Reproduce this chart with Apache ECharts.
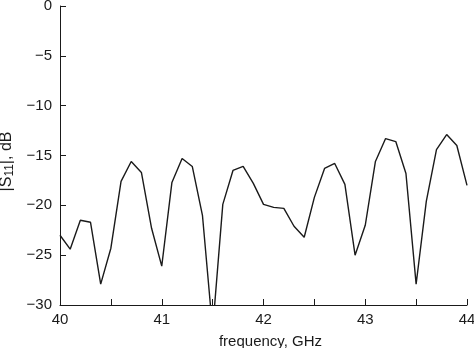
<!DOCTYPE html>
<html>
<head>
<meta charset="utf-8">
<style>html,body{margin:0;padding:0;background:#fff}#c{width:474px;height:348px}</style>
<script src="https://cdn.jsdelivr.net/npm/echarts@6/dist/echarts.min.js"></script>
</head>
<body>
<div id="c"></div>
<script>
var frequencies = [40.0,40.1,40.2,40.3,40.4,40.5,40.6,40.7,40.8,40.9,41.0,41.1,41.2,41.3,41.4,41.5,41.6,41.7,41.8,41.9,42.0,42.1,42.2,42.3,42.4,42.5,42.6,42.7,42.8,42.9,43.0,43.1,43.2,43.3,43.4,43.5,43.6,43.7,43.8,43.9,44.0];
var s11 = [-23.0,-24.4,-21.5,-21.7,-27.9,-24.3,-17.6,-15.6,-16.7,-22.3,-26.1,-17.7,-15.3,-16.1,-21.0,-32.5,-19.9,-16.5,-16.1,-17.8,-19.9,-20.2,-20.3,-22.1,-23.2,-19.2,-16.3,-15.8,-17.9,-25.0,-22.0,-15.6,-13.3,-13.6,-16.8,-27.9,-19.6,-14.4,-12.9,-14.0,-18.0];
var xTickLabels = ['40','41','42','43','44'];
var yTickLabels = ['0','−5','−10','−15','−20','−25','−30'];

var data = frequencies.map(function(f,i){return [f, s11[i]];});
var font = 'Liberation Sans, Arial, Helvetica, sans-serif';
var ink = '#1a1a1a';
var chart = echarts.init(document.getElementById('c'));
chart.setOption({
  animation: false,
  grid: {left: 60, right: 7, top: 6, bottom: 43, containLabel: false, outerBoundsMode: 'none'},
  xAxis: {
    type: 'value', min: 40, max: 44, interval: 0.5,
    name: 'frequency, GHz', nameLocation: 'middle', nameGap: 29,
    nameTextStyle: {fontFamily: font, fontSize: 15, color: ink, padding: [0,0,0,14]},
    axisLine: {show: true, onZero: false, lineStyle: {color: ink, width: 1}},
    axisTick: {show: true, inside: true, length: 6, lineStyle: {color: ink}},
    axisLabel: {fontFamily: font, fontSize: 15, color: ink, margin: 7,
      formatter: function(v){ var i = xTickLabels.indexOf(String(v)); return i >= 0 ? xTickLabels[i] : ''; }},
    splitLine: {show: false}
  },
  yAxis: {
    type: 'value', min: -30, max: 0, interval: 5,
    name: '{n||S}{s|11}{n||, dB}', nameLocation: 'middle', nameGap: 36, nameRotate: 90,
    nameTextStyle: {fontFamily: font, fontSize: 16, color: ink, padding: [0,0,0,-12],
      rich: {n: {fontFamily: font, fontSize: 16, color: ink},
             s: {fontFamily: font, fontSize: 12, color: ink, verticalAlign: 'bottom', padding: [7,0,0,0]}}},
    axisLine: {show: true, onZero: false, lineStyle: {color: ink, width: 1}},
    axisTick: {show: true, inside: true, length: 6, lineStyle: {color: ink}},
    axisLabel: {fontFamily: font, fontSize: 15, color: ink, margin: 8,
      formatter: function(v){ var s = String(Math.abs(v)); return v < 0 ? '−' + s : s; }},
    splitLine: {show: false}
  },
  series: [{
    type: 'line', data: data, showSymbol: false, clip: true,
    lineStyle: {color: ink, width: 1.4}
  }]
});
</script>
</body>
</html>
